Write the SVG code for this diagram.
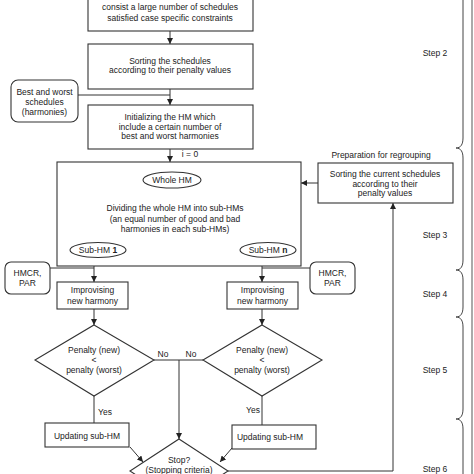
<svg xmlns="http://www.w3.org/2000/svg" width="474" height="474" viewBox="0 0 474 474">
<style>
text{font-family:"Liberation Sans",Arial,sans-serif;font-size:8.5px;fill:#222;text-anchor:middle}
.b{fill:#fff;stroke:#333;stroke-width:1.1}
.c{fill:none;stroke:#333;stroke-width:1}
.br{fill:none;stroke:#444;stroke-width:1}
</style>
<defs>
<marker id="a" markerWidth="6" markerHeight="6" refX="6" refY="3" orient="auto" markerUnits="userSpaceOnUse">
<path d="M0,0 L6,3 L0,6 z" fill="#222"/>
</marker>
</defs>
<rect width="474" height="474" fill="#fff"/>
<g id="connectors">
<path class="c" d="M170,31 V44" marker-end="url(#a)"/>
<path class="c" d="M170,89 V105" marker-end="url(#a)"/>
<path class="c" d="M78,95 H170"/>
<path class="c" d="M170,149 V162" marker-end="url(#a)"/>
<path class="c" d="M143,180 H98 V243" marker-end="url(#a)"/>
<path class="c" d="M201,180 H268 V243" marker-end="url(#a)"/>
<path class="c" d="M94,266 V282" marker-end="url(#a)"/>
<path class="c" d="M50,268 H94"/>
<path class="c" d="M262,266 V282" marker-end="url(#a)"/>
<path class="c" d="M310,268 H262"/>
<path class="c" d="M94,309 V325" marker-end="url(#a)"/>
<path class="c" d="M262,309 V325" marker-end="url(#a)"/>
<path class="c" d="M154,360 H203"/>
<path class="c" d="M179,360 V439" marker-end="url(#a)"/>
<path class="c" d="M94,396 V423"/>
<path class="c" d="M262,396 V425"/>
<path class="c" d="M130,447 L143,462" marker-end="url(#a)"/>
<path class="c" d="M232,448 L220,462" marker-end="url(#a)"/>
<path class="c" d="M228,471 H393 V203" marker-end="url(#a)"/>
<path class="c" d="M318,183 H301" marker-end="url(#a)"/>
<text x="190" y="157">i = 0</text>
<text x="163" y="357">No</text>
<text x="191" y="357">No</text>
<text x="105" y="415">Yes</text>
<text x="253" y="413">Yes</text>
</g>
<g id="n-top">
<rect class="b" x="88" y="-12" width="165" height="43"/>
<text x="170" y="10">consist a large number of schedules</text>
<text x="170" y="21">satisfied case specific constraints</text>
</g>
<g id="n-sort">
<rect class="b" x="88" y="44" width="165" height="45"/>
<text x="170" y="64">Sorting the schedules</text>
<text x="170" y="73">according to their penalty values</text>
</g>
<g id="n-best">
<rect class="b" x="11" y="80" width="67" height="42" rx="7"/>
<text x="44.5" y="95">Best and worst</text>
<text x="44.5" y="105">schedules</text>
<text x="44.5" y="115">(harmonies)</text>
</g>
<g id="n-init">
<rect class="b" x="88" y="105" width="165" height="44"/>
<text x="170" y="120">Initializing the HM which</text>
<text x="170" y="130">include a certain number of</text>
<text x="170" y="139">best and worst harmonies</text>
</g>
<g id="n-group">
<rect class="b" x="57" y="162" width="244" height="104" fill="none"/>
<text x="175" y="211">Dividing the whole HM into sub-HMs</text>
<text x="175" y="222">(an equal number of good and bad</text>
<text x="175" y="232">harmonies in each sub-HMs)</text>
</g>
<g id="n-whole">
<ellipse class="b" cx="172" cy="180" rx="29" ry="8"/>
<text x="172" y="183">Whole HM</text>
</g>
<g id="n-sub1">
<ellipse class="b" cx="98" cy="250" rx="28" ry="7.5"/>
<text x="98" y="253">Sub-HM <tspan font-weight="bold">1</tspan></text>
</g>
<g id="n-subn">
<ellipse class="b" cx="268" cy="250" rx="28" ry="7.5"/>
<text x="268" y="253">Sub-HM <tspan font-weight="bold">n</tspan></text>
</g>
<g id="n-regroup">
<text x="381" y="158">Preparation for regrouping</text>
<rect class="b" x="318" y="163" width="135" height="40"/>
<text x="385" y="177">Sorting the current schedules</text>
<text x="385" y="187">according to their</text>
<text x="385" y="196">penalty values</text>
</g>
<g id="n-hmcr1">
<rect class="b" x="5" y="262" width="45" height="32" rx="6"/>
<text x="27.5" y="276">HMCR,</text>
<text x="27.5" y="286">PAR</text>
</g>
<g id="n-hmcr2">
<rect class="b" x="310" y="262" width="45" height="32" rx="6"/>
<text x="332.5" y="276">HMCR,</text>
<text x="332.5" y="286">PAR</text>
</g>
<g id="n-imp1">
<rect class="b" x="57" y="282" width="71" height="27"/>
<text x="92.5" y="293">Improvising</text>
<text x="92.5" y="304">new harmony</text>
</g>
<g id="n-imp2">
<rect class="b" x="227" y="282" width="71" height="27"/>
<text x="262.5" y="293">Improvising</text>
<text x="262.5" y="304">new harmony</text>
</g>
<g id="n-dec1">
<polygon class="b" points="94,325 154,360 94,396 35,360"/>
<text x="94" y="353">Penalty (new)</text>
<text x="94" y="363">&lt;</text>
<text x="94" y="373">penalty (worst)</text>
</g>
<g id="n-dec2">
<polygon class="b" points="262,325 322,360 262,396 203,360"/>
<text x="262" y="353">Penalty (new)</text>
<text x="262" y="363">&lt;</text>
<text x="262" y="373">penalty (worst)</text>
</g>
<g id="n-upd1">
<rect class="b" x="45" y="423" width="84" height="24"/>
<text x="87" y="439">Updating sub-HM</text>
</g>
<g id="n-upd2">
<rect class="b" x="232" y="425" width="84" height="24"/>
<text x="270" y="440">Updating sub-HM</text>
</g>
<g id="n-stop">
<polygon class="b" points="179,439 228,471 179,503 130,471"/>
<text x="179" y="463">Stop?</text>
<text x="179" y="473">(Stopping criteria)</text>
</g>
<g id="steps">
<path class="br" d="M463,-5 V138 C463,144 461,148 456,148 C461,148 463,152 463,158 V260 C463,266 461,270 456,270 C461,270 463,274 463,280 V307 C463,313 461,317 456,317 C461,317 463,321 463,327 V409 C463,415 461,419 456,419 C461,419 463,423 463,429 V480"/>
<rect x="471" y="0" width="2" height="474" fill="#aaa"/>
<text x="435" y="56">Step 2</text>
<text x="435" y="238">Step 3</text>
<text x="435" y="297">Step 4</text>
<text x="435" y="373">Step 5</text>
<text x="435" y="472">Step 6</text>
</g>
</svg>
